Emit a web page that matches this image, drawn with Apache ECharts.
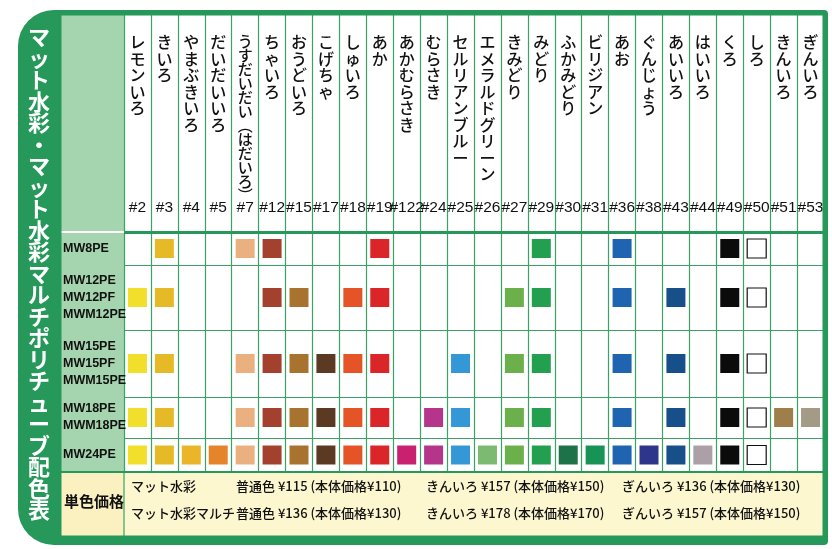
<!DOCTYPE html>
<html>
<head>
<meta charset="utf-8">
<script src="https://cdn.jsdelivr.net/npm/echarts@6/dist/echarts.min.js"></script>
<style>
  html, body { margin: 0; padding: 0; background: #fff; }
  #chart { width: 832px; height: 549px; }
</style>
</head>
<body>
<div id="chart"></div>
<script>
// 列（色番号と色名）
const colCodes = ['#2', '#3', '#4', '#5', '#7', '#12', '#15', '#17', '#18', '#19', '#122', '#24', '#25',
  '#26', '#27', '#29', '#30', '#31', '#36', '#38', '#43', '#44', '#49', '#50', '#51', '#53'];
const colNames = ['レモンいろ', 'きいろ', 'やまぶきいろ', 'だいだいいろ', 'うすだいだい(はだいろ)', 'ちゃいろ',
  'おうどいろ', 'こげちゃ', 'しゅいろ', 'あか', 'あかむらさき', 'むらさき', 'セルリアンブルー',
  'エメラルドグリーン', 'きみどり', 'みどり', 'ふかみどり', 'ビリジアン', 'あお', 'ぐんじょう',
  'あいいろ', 'はいいろ', 'くろ', 'しろ', 'きんいろ', 'ぎんいろ'];
const colColors = ['#f1df2c', '#e6ba26', '#ebb52a', '#e6842b', '#ebb07f', '#a3402e', '#a8722f', '#5b3922',
  '#e45427', '#db2629', '#c9206f', '#b4358a', '#3598d6', '#7cba72', '#6bb04a', '#22a04f', '#1e7249',
  '#169355', '#1f64b0', '#2d368a', '#174f8a', '#aba0a5', '#0b0b0b', '#ffffff', '#9e7e4b', '#a49b87'];

// 行（セット名と含まれる色）
const rowNames = ['MW8PE', 'MW12PE\nMW12PF\nMWM12PE', 'MW15PE\nMW15PF\nMWM15PE', 'MW18PE\nMWM18PE', 'MW24PE'];
const rowSets = [
  ['#3', '#7', '#12', '#19', '#29', '#36', '#49', '#50'],
  ['#2', '#3', '#12', '#15', '#18', '#19', '#27', '#29', '#36', '#43', '#49', '#50'],
  ['#2', '#3', '#7', '#12', '#15', '#17', '#18', '#19', '#25', '#27', '#29', '#36', '#43', '#49', '#50'],
  ['#2', '#3', '#7', '#12', '#15', '#17', '#18', '#19', '#24', '#25', '#27', '#29', '#36', '#43', '#49', '#50', '#51', '#53'],
  ['#2', '#3', '#4', '#5', '#7', '#12', '#15', '#17', '#18', '#19', '#122', '#24', '#25', '#26', '#27', '#29',
    '#30', '#31', '#36', '#38', '#43', '#44', '#49', '#50']
];

// 単色価格
const priceProducts = ['マット水彩', 'マット水彩マルチ'];
const priceNormal = ['普通色 ¥115 (本体価格¥110)', '普通色 ¥136 (本体価格¥130)'];
const priceGold = ['きんいろ ¥157 (本体価格¥150)', 'きんいろ ¥178 (本体価格¥170)'];
const priceSilver = ['ぎんいろ ¥136 (本体価格¥130)', 'ぎんいろ ¥157 (本体価格¥150)'];

// 行の境界（y軸の単位、見出しは0〜218）
const rowEdges = [218, 251, 316, 383, 424, 458];
const GREEN = '#25985a';
const LINE = '#3aa264';

const cells = [];
rowSets.forEach((set, r) => {
  set.forEach(code => {
    const c = colCodes.indexOf(code);
    cells.push([c, (rowEdges[r] + rowEdges[r + 1]) / 2, colColors[c]]);
  });
});
const rowLabelData = rowNames.map((n, r) => [0, (rowEdges[r] + rowEdges[r + 1]) / 2, n]);

// 縦書き用：長い名前は詰めて、括弧は縦書き形に
const vertical = v => {
  const style = v.length > 10 ? 'k' : 'c';
  return v.replace('(', '︵').replace(')', '︶').split('')
    .map(ch => '{' + style + '|' + ch + '}').join('\n');
};

const chart = echarts.init(document.getElementById('chart'));
const jp = '"Noto Sans CJK JP", sans-serif';
const narrow = '"Liberation Sans Narrow", "Liberation Sans", sans-serif';
const priceFont = '500 13px ' + jp;

const option = {
  animation: false,
  backgroundColor: '#fff',
  grid: { left: 124, right: 8, top: 14, height: 458 },
  xAxis: [
    {
      type: 'category', data: colNames, position: 'top',
      axisLine: { show: false }, axisTick: { show: false },
      splitLine: { show: true, interval: 0, lineStyle: { color: LINE, width: 1.2 } },
      axisLabel: {
        inside: true, margin: 20, interval: 0, verticalAlign: 'top',
        color: '#111', formatter: vertical,
        rich: {
          c: { fontFamily: jp, fontSize: 16, fontWeight: 500, lineHeight: 16.5, color: '#111' },
          k: { fontFamily: jp, fontSize: 15, fontWeight: 500, lineHeight: 14, color: '#111' }
        }
      }
    },
    {
      type: 'category', data: colCodes, position: 'top', offset: 0,
      axisLine: { show: false }, axisTick: { show: false }, splitLine: { show: false },
      axisLabel: {
        inside: true, margin: 194, interval: 0, verticalAlign: 'middle',
        fontFamily: narrow, fontSize: 15.5, color: '#111'
      }
    }
  ],
  yAxis: {
    type: 'value', min: 0, max: 458, inverse: true, show: false, splitLine: { show: false }
  },
  graphic: [
    { type: 'rect', z: -10, shape: { x: 18, y: 10, width: 810, height: 535, r: [36, 4, 4, 36] }, style: { fill: GREEN } },
    { type: 'rect', z: -9, shape: { x: 60, y: 14, width: 764, height: 523 }, style: { fill: '#fff' } },
    { type: 'rect', z: -8, shape: { x: 60, y: 14, width: 64, height: 458 }, style: { fill: '#a5d5ae' } },
    { type: 'rect', z: -8, shape: { x: 60, y: 473, width: 764, height: 64 }, style: { fill: '#fdf7d0' } },
    { type: 'rect', z: -7, shape: { x: 60, y: 473, width: 64, height: 64 }, style: { fill: '#fbf1c0' } },
    { type: 'line', z: 5, shape: { x1: 124, y1: 473, x2: 124, y2: 537 }, style: { stroke: LINE, lineWidth: 1.2 } },
    { type: 'line', z: 5, shape: { x1: 60, y1: 472, x2: 824, y2: 472 }, style: { stroke: GREEN, lineWidth: 2 } },
    { type: 'line', z: 5, shape: { x1: 60, y1: 232, x2: 124, y2: 232 }, style: { stroke: '#fff', lineWidth: 2 } },
    { type: 'rect', z: 6, shape: { x: 60, y: 14, width: 764, height: 523 }, style: { fill: null, stroke: GREEN, lineWidth: 3 } },
    {
      type: 'text', left: 28, top: 26, z: 10,
      style: {
        text: 'マット水彩・マット水彩マルチポリチューブ配色表'.split('').join('\n'),
        fill: '#fff', font: 'bold 22px ' + jp, lineHeight: 21.5, align: 'center', x: 12
      }
    },
    { type: 'text', left: 64, top: 494, z: 10, style: { text: '単色価格', fill: '#111', font: 'bold 15px ' + jp } },
    ...priceProducts.map((t, i) => ({ type: 'text', left: 131, top: 480 + i * 27, z: 10, style: { text: t, fill: '#111', font: priceFont } })),
    ...priceNormal.map((t, i) => ({ type: 'text', left: 236, top: 480 + i * 27, z: 10, style: { text: t, fill: '#111', font: priceFont } })),
    ...priceGold.map((t, i) => ({ type: 'text', left: 426, top: 480 + i * 27, z: 10, style: { text: t, fill: '#111', font: priceFont } })),
    ...priceSilver.map((t, i) => ({ type: 'text', left: 622, top: 480 + i * 27, z: 10, style: { text: t, fill: '#111', font: priceFont } }))
  ],
  series: [
    {
      type: 'custom',
      data: cells,
      renderItem: (params, api) => {
        const p = api.coord([api.value(0), api.value(1)]);
        const s = 19;
        const fill = api.value(2);
        return {
          type: 'rect',
          shape: { x: p[0] - s / 2, y: p[1] - s / 2, width: s, height: s },
          style: { fill: fill, stroke: fill === '#ffffff' ? '#111' : null, lineWidth: 1.2 }
        };
      },
      markLine: {
        silent: true, symbol: 'none', label: { show: false },
        lineStyle: { color: LINE, width: 1.2, type: 'solid' },
        data: rowEdges.slice(1, -1).map(v => ({ yAxis: v }))
          .concat([{ yAxis: rowEdges[0], lineStyle: { color: GREEN, width: 3 } }])
      }
    },
    {
      type: 'custom',
      data: rowLabelData,
      renderItem: (params, api) => {
        const p = api.coord([0, api.value(1)]);
        return {
          type: 'text',
          style: {
            text: api.value(2), x: 63, y: p[1], verticalAlign: 'middle',
            font: 'bold 12.5px ' + narrow, fill: '#111', lineHeight: 17
          }
        };
      }
    }
  ]
};
chart.setOption(option);
</script>
</body>
</html>
